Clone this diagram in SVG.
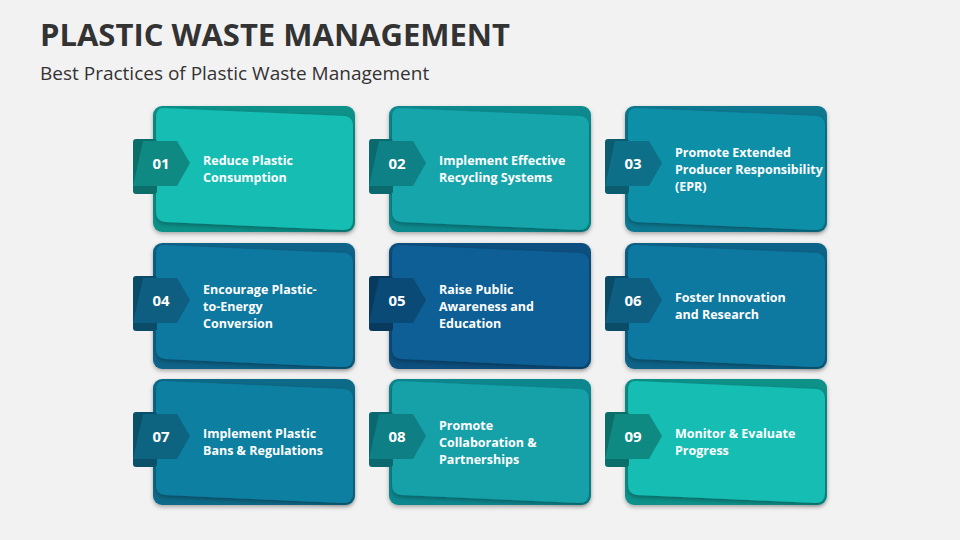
<svg xmlns="http://www.w3.org/2000/svg" width="960" height="540" viewBox="0 0 960 540">
<defs>
<style>
.t{font-family:"Open Sans","Liberation Sans",sans-serif;font-weight:bold;fill:#fff;font-size:12.5px}
.n{font-family:"Open Sans","Liberation Sans",sans-serif;font-weight:bold;fill:#fff;font-size:15px;text-anchor:middle}
</style>
<filter id="sh" x="-10%" y="-10%" width="120%" height="130%"><feDropShadow dx="0" dy="2" stdDeviation="2" flood-opacity="0.3"/></filter>
<g id="card">
<rect x="0" y="0" width="202" height="126" rx="9" filter="url(#sh)" class="bk"/>
<path d="M10,2 L192,10 Q200,11 200,20 L200,114 Q200,124 190,124 L12,116 Q3,115 3,106 L3,12 Q3,2 10,2 Z" class="fr" filter="url(#sh)"/>
<rect x="-20" y="33" width="24" height="55" rx="3" fill="#000" opacity="0.25"/>
</g>
</defs>
<rect width="960" height="540" fill="#f2f2f2"/>
<text x="40" y="46" font-family="Open Sans,Liberation Sans,sans-serif" font-weight="bold" font-size="31" fill="#333">PLASTIC WASTE MANAGEMENT</text>
<text x="40" y="80" font-family="Open Sans,Liberation Sans,sans-serif" font-size="19" fill="#333">Best Practices of Plastic Waste Management</text>
<g id="connectors"></g>
<g id="n1" transform="translate(153,106)">
<rect x="0" y="0" width="202" height="126" rx="9" fill="#0F9189" filter="url(#sh)"/>
<path d="M10,2 L192,10 Q200,11 200,20 L200,114 Q200,124 190,124 L12,116 Q3,115 3,106 L3,12 Q3,2 10,2 Z" fill="#14BDB3" filter="url(#sh)"/>
<rect x="-20" y="33" width="24" height="55" rx="3" fill="#0B6E69"/>
<path d="M-10,35 L24,35 L37,57 L24,80 L-20,80 Z" fill="#0E8A82"/>
<text class="n" x="8" y="63">01</text>
<text class="t" x="50" y="59">Reduce Plastic</text><text class="t" x="50" y="76">Consumption</text>
</g>
<g id="n2" transform="translate(389,106)">
<rect x="0" y="0" width="202" height="126" rx="9" fill="#0E8A8E" filter="url(#sh)"/>
<path d="M10,2 L192,10 Q200,11 200,20 L200,114 Q200,124 190,124 L12,116 Q3,115 3,106 L3,12 Q3,2 10,2 Z" fill="#12A5AB" filter="url(#sh)"/>
<rect x="-20" y="33" width="24" height="55" rx="3" fill="#0A6A6E"/>
<path d="M-10,35 L24,35 L37,57 L24,80 L-20,80 Z" fill="#0D8185"/>
<text class="n" x="8" y="63">02</text>
<text class="t" x="50" y="59">Implement Effective</text><text class="t" x="50" y="76">Recycling Systems</text>
</g>
<g id="n3" transform="translate(625,106)">
<rect x="0" y="0" width="202" height="126" rx="9" fill="#0D7890" filter="url(#sh)"/>
<path d="M10,2 L192,10 Q200,11 200,20 L200,114 Q200,124 190,124 L12,116 Q3,115 3,106 L3,12 Q3,2 10,2 Z" fill="#118FA8" filter="url(#sh)"/>
<rect x="-20" y="33" width="24" height="55" rx="3" fill="#0A5C6E"/>
<path d="M-10,35 L24,35 L37,57 L24,80 L-20,80 Z" fill="#0D7088"/>
<text class="n" x="8" y="63">03</text>
<text class="t" x="50" y="51">Promote Extended</text><text class="t" x="50" y="68">Producer Responsibility</text><text class="t" x="50" y="85">(EPR)</text>
</g>
<g id="n4" transform="translate(153,243)">
<rect x="0" y="0" width="202" height="126" rx="9" fill="#0D6488" filter="url(#sh)"/>
<path d="M10,2 L192,10 Q200,11 200,20 L200,114 Q200,124 190,124 L12,116 Q3,115 3,106 L3,12 Q3,2 10,2 Z" fill="#1178A0" filter="url(#sh)"/>
<rect x="-20" y="33" width="24" height="55" rx="3" fill="#0A4C68"/>
<path d="M-10,35 L24,35 L37,57 L24,80 L-20,80 Z" fill="#0D5E80"/>
<text class="n" x="8" y="63">04</text>
<text class="t" x="50" y="51">Encourage Plastic-</text><text class="t" x="50" y="68">to-Energy</text><text class="t" x="50" y="85">Conversion</text>
</g>
<g id="n5" transform="translate(389,243)">
<rect x="0" y="0" width="202" height="126" rx="9" fill="#0A4F7E" filter="url(#sh)"/>
<path d="M10,2 L192,10 Q200,11 200,20 L200,114 Q200,124 190,124 L12,116 Q3,115 3,106 L3,12 Q3,2 10,2 Z" fill="#0D5F95" filter="url(#sh)"/>
<rect x="-20" y="33" width="24" height="55" rx="3" fill="#083A5E"/>
<path d="M-10,35 L24,35 L37,57 L24,80 L-20,80 Z" fill="#0A4A76"/>
<text class="n" x="8" y="63">05</text>
<text class="t" x="50" y="51">Raise Public</text><text class="t" x="50" y="68">Awareness and</text><text class="t" x="50" y="85">Education</text>
</g>
<g id="n6" transform="translate(625,243)">
<rect x="0" y="0" width="202" height="126" rx="9" fill="#0D6488" filter="url(#sh)"/>
<path d="M10,2 L192,10 Q200,11 200,20 L200,114 Q200,124 190,124 L12,116 Q3,115 3,106 L3,12 Q3,2 10,2 Z" fill="#1178A0" filter="url(#sh)"/>
<rect x="-20" y="33" width="24" height="55" rx="3" fill="#0A4C68"/>
<path d="M-10,35 L24,35 L37,57 L24,80 L-20,80 Z" fill="#0D5E80"/>
<text class="n" x="8" y="63">06</text>
<text class="t" x="50" y="59">Foster Innovation</text><text class="t" x="50" y="76">and Research</text>
</g>
<g id="n7" transform="translate(153,379)">
<rect x="0" y="0" width="202" height="126" rx="9" fill="#0D6A88" filter="url(#sh)"/>
<path d="M10,2 L192,10 Q200,11 200,20 L200,114 Q200,124 190,124 L12,116 Q3,115 3,106 L3,12 Q3,2 10,2 Z" fill="#117FA0" filter="url(#sh)"/>
<rect x="-20" y="33" width="24" height="55" rx="3" fill="#0A5068"/>
<path d="M-10,35 L24,35 L37,57 L24,80 L-20,80 Z" fill="#0D6480"/>
<text class="n" x="8" y="63">07</text>
<text class="t" x="50" y="59">Implement Plastic</text><text class="t" x="50" y="76">Bans &amp; Regulations</text>
</g>
<g id="n8" transform="translate(389,379)">
<rect x="0" y="0" width="202" height="126" rx="9" fill="#0E878E" filter="url(#sh)"/>
<path d="M10,2 L192,10 Q200,11 200,20 L200,114 Q200,124 190,124 L12,116 Q3,115 3,106 L3,12 Q3,2 10,2 Z" fill="#12A0A8" filter="url(#sh)"/>
<rect x="-20" y="33" width="24" height="55" rx="3" fill="#0A686E"/>
<path d="M-10,35 L24,35 L37,57 L24,80 L-20,80 Z" fill="#0D7F85"/>
<text class="n" x="8" y="63">08</text>
<text class="t" x="50" y="51">Promote</text><text class="t" x="50" y="68">Collaboration &amp;</text><text class="t" x="50" y="85">Partnerships</text>
</g>
<g id="n9" transform="translate(625,379)">
<rect x="0" y="0" width="202" height="126" rx="9" fill="#0F9189" filter="url(#sh)"/>
<path d="M10,2 L192,10 Q200,11 200,20 L200,114 Q200,124 190,124 L12,116 Q3,115 3,106 L3,12 Q3,2 10,2 Z" fill="#14BDB3" filter="url(#sh)"/>
<rect x="-20" y="33" width="24" height="55" rx="3" fill="#0B6E69"/>
<path d="M-10,35 L24,35 L37,57 L24,80 L-20,80 Z" fill="#0E8A82"/>
<text class="n" x="8" y="63">09</text>
<text class="t" x="50" y="59">Monitor &amp; Evaluate</text><text class="t" x="50" y="76">Progress</text>
</g>
</svg>
